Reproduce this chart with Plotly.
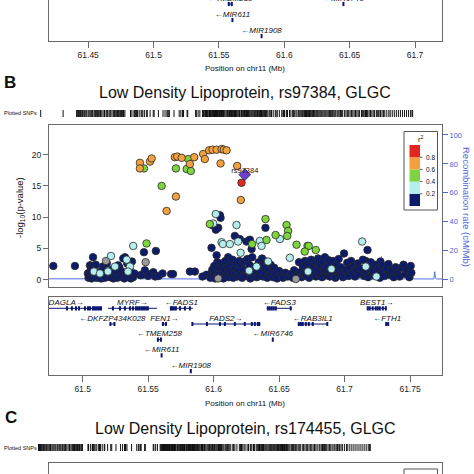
import plotly.graph_objects as go

W = H = 474
def fx(px): return px / W
def fy(py): return 1 - py / H

# ---------------- data ----------------
tickvals_A = [61.45, 61.5, 61.55, 61.6, 61.65, 61.7]
ticktext_A = ["61.45", "61.5", "61.55", "61.6", "61.65", "61.7"]
tickvals_B = [61.5, 61.55, 61.6, 61.65, 61.7, 61.75]
ticktext_B = ["61.5", "61.55", "61.6", "61.65", "61.7", "61.75"]
logp_ticks = [0, 5, 10, 15, 20]
recomb_ticks = [0, 20, 40, 60, 80, 100]
ld_breaks = ["0.2", "0.4", "0.6", "0.8"]

xrange_A = [61.420, 61.7206]
xrange_B = [61.4743, 61.7744]

gene_names = ["DAGLA", "MYRF", "FADS1", "FADS3", "BEST1", "DKFZP434K028", "FEN1",
              "FADS2", "RAB3IL1", "FTH1", "TMEM258", "MIR6746", "MIR611", "MIR1908"]
gene_start = [61.4479, 61.5193, 61.5666, 61.6406, 61.7170, 61.5208, 61.5605,
              61.5834, 61.6643, 61.7314, 61.5567, 61.6451, 61.5602, 61.5825]
gene_end = [61.5147, 61.5567, 61.5842, 61.6597, 61.7322, 61.5247, 61.5643,
            61.6353, 61.6872, 61.7337, 61.5605, 61.6453, 61.5604, 61.5827]
gene_strand = ["+", "+", "-", "-", "+", "-", "+", "+", "-", "-", "-", "-", "-", "-"]
gene_row = [1, 1, 1, 1, 1, 2, 2, 2, 2, 2, 3, 3, 4, 5]
gene_exons = [
    [61.4880, 61.4918, 61.4949, 61.4972, 61.5018, 61.5041, 61.5056, 61.5079, 61.5094, 61.5109, 61.5125, 61.5140],
    [61.5231, 61.5285, 61.5323, 61.5361, 61.5384, 61.5407, 61.5422, 61.5437, 61.5453, 61.5468, 61.5483, 61.5498],
    [61.5674, 61.5682, 61.5697, 61.5712, 61.5743, 61.5781, 61.5819],
    [61.6414, 61.6429, 61.6444, 61.6459, 61.6475, 61.6589],
    [61.7177, 61.7192, 61.7215, 61.7238, 61.7253, 61.7269, 61.7292, 61.7315],
    [61.5212, 61.5243],
    [61.5613, 61.5636],
    [61.5838, 61.5949, 61.6048, 61.6086, 61.6162, 61.6238, 61.6292, 61.6315, 61.6338, 61.6349],
    [61.6651, 61.6666, 61.6681, 61.6704, 61.6727, 61.6757, 61.6868],
    [61.7318, 61.7333],
    [61.5575, 61.5598],
    [61.6452],
    [61.5603],
    [61.5826],
]

# SNPs: (position Mb, -log10 p) per LD class
navy = [
    (61.4776, 2.2), (61.4941, 2.2), (61.5056, 2.3), (61.5079, 3.6), (61.5155, 2.1), (61.5270, 2.3),
    (61.5323, 3.6), (61.5376, 2.9), (61.5468, 4.4), (61.5559, 4.6), (61.5984, 5.1), (61.5992, 8.7),
    (61.6035, 8.3), (61.6017, 8.0), (61.6048, 10.3), (61.6053, 9.9), (61.6023, 3.9), (61.6111, 3.6),
    (61.6162, 7.0), (61.6200, 6.5), (61.6251, 6.1), (61.6396, 8.3), (61.6277, 6.4), (61.6290, 4.9),
    (61.6996, 4.2), (61.7175, 4.75), (61.7162, 3.0), (61.7274, 2.9),
    (61.5040, 1.0), (61.5045, 0.3), (61.5052, 0.6), (61.5060, 1.5), (61.5068, 0.2), (61.5072, 2.0),
    (61.5085, 0.8), (61.5095, 0.4), (61.5100, 2.4), (61.5108, 0.3), (61.5115, 1.2), (61.5125, 0.5),
    (61.5140, 0.2), (61.5148, 1.4), (61.5160, 0.6), (61.5170, 0.3), (61.5185, 2.6), (61.5200, 0.9),
    (61.5210, 0.4), (61.5225, 1.6), (61.5235, 0.2), (61.5245, 0.7), (61.5258, 1.1), (61.5265, 0.3),
    (61.5280, 2.0), (61.5290, 0.5), (61.5300, 1.3), (61.5310, 3.4), (61.5318, 0.2), (61.5330, 0.9),
    (61.5340, 2.6), (61.5350, 0.4), (61.5358, 1.7), (61.5368, 0.2), (61.5372, 0.8), (61.5385, 0.4),
    (61.5395, 1.0),
    (61.5440, 0.7), (61.5455, 0.8), (61.5475, 1.5), (61.5500, 0.6), (61.5520, 0.9), (61.5540, 1.2),
    (61.5555, 0.5), (61.5580, 0.6), (61.5610, 1.0), (61.5675, 0.9), (61.5690, 0.9), (61.5819, 1.3),
    (61.5857, 1.3), (61.5915, 0.5), (61.5946, 0.8), (61.5984, 1.0),
    (61.5975, 0.3), (61.5990, 1.6), (61.6000, 0.6), (61.6005, 2.2), (61.6012, 0.2), (61.6020, 1.2),
    (61.6028, 2.8), (61.6040, 0.8), (61.6045, 1.9), (61.6055, 0.4), (61.6060, 2.6), (61.6068, 1.1),
    (61.6075, 0.2), (61.6082, 1.7), (61.6090, 3.0), (61.6095, 0.7), (61.6105, 2.0), (61.6115, 0.4),
    (61.6120, 1.4), (61.6130, 2.4), (61.6138, 0.9), (61.6145, 3.2), (61.6150, 0.3), (61.6158, 1.8),
    (61.6165, 1.0), (61.6172, 2.6), (61.6180, 0.5), (61.6190, 1.5), (61.6195, 3.0), (61.6203, 0.8),
    (61.6210, 2.2), (61.6218, 0.3), (61.6225, 1.6), (61.6232, 2.9), (61.6240, 0.6), (61.6250, 1.2),
    (61.6258, 3.3), (61.6265, 0.9), (61.6272, 2.4), (61.6280, 0.2), (61.6288, 1.4), (61.6295, 3.6),
    (61.6303, 0.7), (61.6312, 2.0), (61.6320, 1.1), (61.6330, 0.4), (61.6338, 1.8), (61.6345, 2.8),
    (61.6350, 0.6),
    (61.6360, 1.3), (61.6370, 3.4), (61.6378, 0.5), (61.6385, 2.2), (61.6392, 1.0), (61.6400, 2.9),
    (61.6410, 0.3), (61.6420, 1.7), (61.6428, 0.8), (61.6435, 2.4), (61.6445, 1.2), (61.6455, 0.4),
    (61.6462, 1.9), (61.6470, 0.9), (61.6485, 0.2), (61.6500, 1.4), (61.6515, 0.7), (61.6530, 0.3),
    (61.6548, 1.1), (61.6565, 0.5), (61.6590, 0.9), (61.6605, 0.3), (61.6615, 1.5), (61.6640, 0.7),
    (61.6652, 2.8), (61.6660, 1.2),
    (61.6672, 0.4), (61.6680, 2.2), (61.6688, 1.0), (61.6698, 3.0), (61.6705, 0.6), (61.6712, 1.8),
    (61.6720, 2.6), (61.6730, 0.3), (61.6738, 1.4), (61.6745, 3.2), (61.6752, 0.8), (61.6760, 2.0),
    (61.6768, 1.1), (61.6775, 2.8), (61.6782, 0.5), (61.6790, 1.6), (61.6798, 3.4), (61.6805, 0.9),
    (61.6812, 2.3), (61.6820, 1.3), (61.6828, 0.4), (61.6835, 2.9), (61.6842, 1.7), (61.6850, 3.6),
    (61.6858, 0.7), (61.6865, 2.1), (61.6872, 1.2), (61.6880, 3.1), (61.6888, 0.5), (61.6895, 2.5),
    (61.6905, 1.0), (61.6912, 3.0), (61.6920, 1.8), (61.6930, 0.3), (61.6938, 2.4), (61.6945, 1.3),
    (61.6955, 3.3), (61.6962, 0.8), (61.6970, 2.0), (61.6980, 1.1), (61.6988, 0.4), (61.7010, 1.6),
    (61.7020, 2.7), (61.7030, 0.6), (61.7040, 1.9), (61.7050, 3.0), (61.7060, 1.0), (61.7070, 2.3),
    (61.7080, 0.5), (61.7090, 1.5), (61.7100, 2.6), (61.7110, 0.9), (61.7120, 1.8), (61.7140, 3.2),
    (61.7150, 0.6), (61.7160, 1.3), (61.7170, 2.2), (61.7180, 0.4), (61.7190, 1.7), (61.7200, 2.8),
    (61.7210, 0.7), (61.7220, 1.4), (61.7230, 2.4), (61.7250, 1.0), (61.7260, 1.9), (61.7270, 0.3),
    (61.7285, 2.3), (61.7295, 1.2), (61.7305, 0.6), (61.7320, 1.8), (61.7335, 2.5), (61.7345, 0.8),
    (61.7360, 1.5), (61.7375, 0.4), (61.7390, 2.0), (61.7405, 1.1), (61.7420, 0.5), (61.7435, 1.9),
    (61.7450, 2.4), (61.7465, 0.9), (61.7480, 1.6), (61.7495, 0.4), (61.7505, 2.2), (61.7510, 1.1),
]
gray = [(61.5178, 3.0), (61.5481, 2.8), (61.6035, 0.2), (61.6628, 0.1)]
cyan = [
    (61.5086, 1.3), (61.5132, 1.0), (61.5216, 3.8), (61.5247, 2.1), (61.5193, 1.3), (61.5336, 3.2),
    (61.5361, 2.1), (61.5346, 1.3), (61.5386, 5.4), (61.6017, 10.5), (61.5997, 9.0), (61.6061, 6.0),
    (61.6071, 5.7), (61.6124, 5.7), (61.6175, 8.75), (61.6187, 6.1), (61.6206, 4.3), (61.6271, 1.45),
    (61.6328, 2.1), (61.6353, 6.2), (61.6366, 5.4), (61.6416, 2.9), (61.6506, 6.5), (61.6582, 3.5),
    (61.6721, 1.3), (61.6900, 1.7), (61.7134, 6.1), (61.7162, 2.1), (61.7243, 0.5),
]
green = [
    (61.5468, 17.8), (61.5603, 15.0), (61.5712, 17.8), (61.5806, 19.3), (61.5794, 17.7), (61.5826, 17.4),
    (61.5488, 5.8), (61.5971, 8.9), (61.6396, 9.7), (61.6404, 6.35), (61.6473, 7.15), (61.6557, 8.75),
    (61.6569, 7.8), (61.6562, 7.0), (61.6633, 5.6), (61.6717, 5.4), (61.6726, 5.4), (61.6696, 4.5),
    (61.6780, 4.75), (61.6294, 5.7),
]
orange = [
    (61.5437, 18.7), (61.5437, 17.8), (61.5514, 18.9), (61.5527, 19.4), (61.5641, 11.0), (61.5704, 19.6),
    (61.5712, 13.3), (61.5722, 19.7), (61.5756, 19.5), (61.5819, 18.5), (61.5852, 19.6), (61.5920, 20.1),
    (61.5933, 19.3), (61.5966, 20.7), (61.5992, 20.8), (61.6023, 20.8), (61.6061, 20.9), (61.6078, 20.8),
    (61.6099, 20.7), (61.6053, 18.6), (61.6180, 18.2), (61.6208, 12.75),
]
red = [(61.6213, 15.5)]
index_snp = [(61.6238, 16.8)]
index_name = "rs97384"

recomb_pos = [61.4743, 61.5150, 61.5185, 61.5210, 61.5300, 61.5380, 61.5410, 61.5440, 61.6000,
              61.6258, 61.6262, 61.6365, 61.6369, 61.6828, 61.6834, 61.6840, 61.7276, 61.7282,
              61.7288, 61.7294, 61.7682, 61.7688, 61.7694, 61.7700, 61.7744]
recomb_rate = [0.6, 0.6, 2.0, 3.8, 4.4, 4.2, 2.5, 0.6, 0.5,
               0.6, 6.0, 6.3, 0.6, 0.6, 7.9, 0.6, 0.5, 15.9,
               4.0, 0.6, 0.5, 5.5, 1.5, 0.5, 0.5]

# ---------------- styles ----------------
NAVY = "#0d1b6b"; CYAN = "#b5eeee"; GREEN = "#7ed43f"; ORANGE = "#f3a13e"
RED = "#e3261f"; PURPLE = "#6b3fd0"; GRAY = "#9b9b9b"
RECOMB = "#4f6fe6"; AXBLUE = "#4c66d9"; FRAME = "#6a6a6a"
GENE = "#0a1670"
FONT = "Liberation Sans, Arial, sans-serif"

fig = go.Figure()

def gene_traces(xa, ya, xr, rows_visible, mb_per_px):
    lx, ly = [], []
    ex, ey = [], []
    tx, ty, tt = [], [], []
    for i, name in enumerate(gene_names):
        r = gene_row[i]
        if r not in rows_visible:
            continue
        lx += [gene_start[i], gene_end[i], None]
        ly += [-r, -r, None]
        ex += gene_exons[i]
        ey += [-r] * len(gene_exons[i])
        label = f"{name}\u2192" if gene_strand[i] == "+" else f"\u2190{name}"
        half = 0.5 * (len(name) + 1.3) * 4.5 * mb_per_px
        mid = 0.5 * (gene_start[i] + gene_end[i])
        mid = max(mid, xr[0] + half + 3 * mb_per_px)
        mid = min(mid, xr[1] - half - 3 * mb_per_px)
        tx.append(mid); ty.append(-r + 0.34); tt.append(f"<i>{label}</i>")
    fig.add_trace(go.Scatter(x=lx, y=ly, mode="lines", line=dict(color=GENE, width=1),
                             xaxis=xa, yaxis=ya, hoverinfo="skip", showlegend=False))
    fig.add_trace(go.Scatter(x=ex, y=ey, mode="markers",
                             marker=dict(symbol="line-ns", size=3, line=dict(color=GENE, width=2)),
                             xaxis=xa, yaxis=ya, hoverinfo="skip", showlegend=False))
    fig.add_trace(go.Scatter(x=tx, y=ty, mode="text", text=tt,
                             textfont=dict(family=FONT, size=8, color="#111"),
                             xaxis=xa, yaxis=ya, hoverinfo="skip", showlegend=False))

# Panel A (partial) genes
gene_traces("x", "y", xrange_A, {3, 4, 5}, 0.05 / 65.4)

# Panel B rug
all_pos = sorted([p for p, _ in navy + gray + cyan + green + orange + red + index_snp])
fig.add_trace(go.Scatter(x=all_pos, y=[0.5] * len(all_pos), mode="markers",
                         marker=dict(symbol="line-ns", size=7, line=dict(color="#111", width=1)),
                         xaxis="x2", yaxis="y2", hoverinfo="skip", showlegend=False))

# Panel B recombination rate (base axis y3 on the right)
fig.add_trace(go.Scatter(x=recomb_pos, y=recomb_rate, mode="lines",
                         line=dict(color=RECOMB, width=1), xaxis="x3", yaxis="y3",
                         hoverinfo="skip", showlegend=False))

# Panel B SNPs (overlay axis y4, left)
for data, col, sym, sz in [(navy, NAVY, "circle", 7.5), (gray, GRAY, "circle", 7.5),
                           (cyan, CYAN, "circle", 7.5), (green, GREEN, "circle", 7.5),
                           (orange, ORANGE, "circle", 7.5), (red, RED, "circle", 7.5),
                           (index_snp, PURPLE, "diamond", 9)]:
    fig.add_trace(go.Scatter(x=[p for p, _ in data], y=[v for _, v in data], mode="markers",
                             marker=dict(symbol=sym, size=sz, color=col,
                                         line=dict(color="#2a2a2a", width=0.8)),
                             xaxis="x3", yaxis="y4", hoverinfo="skip", showlegend=False))
fig.add_trace(go.Scatter(x=[index_snp[0][0]], y=[index_snp[0][1]], mode="text",
                         text=[index_name], textposition="top center",
                         textfont=dict(family=FONT, size=7.5, color="#111"),
                         xaxis="x3", yaxis="y4", hoverinfo="skip", showlegend=False,
                         cliponaxis=False))

# Panel B genes
gene_traces("x5", "y5", xrange_B, {1, 2, 3, 4, 5}, 0.05 / 65.5)

# Panel C rug
c_pos = [p for p in all_pos if p > 61.507]
fig.add_trace(go.Scatter(x=c_pos, y=[0.5] * len(c_pos), mode="markers",
                         marker=dict(symbol="line-ns", size=7, line=dict(color="#111", width=1)),
                         xaxis="x6", yaxis="y6", hoverinfo="skip", showlegend=False))
# Panel C frame placeholder
fig.add_trace(go.Scatter(x=[xrange_B[0]], y=[0], mode="markers", marker=dict(opacity=0),
                         xaxis="x7", yaxis="y7", hoverinfo="skip", showlegend=False))

# ---------------- layout ----------------
XD = [fx(49), fx(442)]
noax = dict(showgrid=False, zeroline=False, showticklabels=False, ticks="")
tickfont = dict(family=FONT, size=8.5, color="#222")

layout = dict(
    width=W, height=H, margin=dict(l=0, r=0, t=0, b=0),
    paper_bgcolor="white", plot_bgcolor="white", showlegend=False,
    font=dict(family=FONT),
    # A genes
    xaxis=dict(domain=XD, range=xrange_A, anchor="y", showgrid=False, zeroline=False,
               showline=True, linecolor=FRAME, mirror=False, ticks="outside", ticklen=6,
               tickcolor=FRAME, tickvals=tickvals_A, ticktext=ticktext_A, tickfont=tickfont),
    yaxis=dict(domain=[fy(41), 1], range=[-5.31, -2.75], anchor="x", showline=True,
               linecolor=FRAME, mirror=True, **noax),
    # B rug
    xaxis2=dict(domain=[fx(36.2), fx(444.5)], range=xrange_B, anchor="y2", **noax),
    yaxis2=dict(domain=[fy(117), fy(110)], range=[0, 1], anchor="x2", **noax),
    # B scatter
    xaxis3=dict(domain=XD, range=xrange_B, anchor="y3", showline=True, linecolor=FRAME,
                mirror=True, **noax),
    yaxis3=dict(domain=[fy(287), fy(125)], range=[-5.04, 106.9], anchor="x3", side="right",
                showgrid=False, zeroline=False, showline=True, linecolor=FRAME, mirror=True,
                tickvals=recomb_ticks, ticks="outside", ticklen=5, tickcolor=AXBLUE,
                tickfont=dict(family=FONT, size=7.5, color=AXBLUE)),
    yaxis4=dict(range=[-1.17, 24.75], overlaying="y3", anchor="x3", side="left",
                showgrid=False, zeroline=False, tickvals=logp_ticks, ticks="outside",
                ticklen=5, tickcolor=FRAME, tickfont=dict(family=FONT, size=8.5, color="#222")),
    # B genes
    xaxis5=dict(domain=XD, range=xrange_B, anchor="y5", showgrid=False, zeroline=False,
                showline=True, linecolor=FRAME, mirror=True, ticks="outside", ticklen=6,
                tickcolor=FRAME, tickvals=tickvals_B, ticktext=ticktext_B, tickfont=tickfont),
    yaxis5=dict(domain=[fy(375), fy(296.7)], range=[-5.248, -0.261], anchor="x5",
                showline=True, linecolor=FRAME, mirror=True, **noax),
    # C rug
    xaxis6=dict(domain=[0, fx(402.1)], range=[61.4789, 61.7744], anchor="y6", **noax),
    yaxis6=dict(domain=[fy(451), fy(444)], range=[0, 1], anchor="x6", **noax),
    # C frame
    xaxis7=dict(domain=XD, range=xrange_B, anchor="y7", side="top", showline=True,
                linecolor=FRAME, mirror=False, **noax),
    yaxis7=dict(domain=[0, fy(462.5)], range=[0, 1], anchor="x7", showline=True,
                linecolor=FRAME, mirror=True, **noax),
    yaxis8=dict(range=[92.74, 101.04], overlaying="y7", anchor="x7", side="right",
                showgrid=False, zeroline=False, tickvals=[100], ticks="outside", ticklen=5,
                tickcolor=AXBLUE, tickfont=dict(family=FONT, size=7.5, color=AXBLUE)),
)
fig.update_layout(**layout)

ann = []
def note(px, py, text, size, color="#111", xanchor="center", angle=0):
    ann.append(dict(x=fx(px), y=fy(py), xref="paper", yref="paper", text=text, showarrow=False,
                    xanchor=xanchor, yanchor="middle", textangle=angle,
                    font=dict(family=FONT, size=size, color=color)))

note(245, 68, "Position on chr11 (Mb)", 8)
note(10, 83, "<b>B</b>", 17)
note(245, 93, "Low Density Lipoprotein, rs97384, GLGC", 16)
note(2, 113.3, "Plotted SNPs", 5.5, xanchor="left")
note(20, 208, "-log<sub>10</sub>(p-value)", 9.5, angle=-90)
note(467, 207, "Recombination rate (cM/Mb)", 9.5, color=AXBLUE, angle=90)
note(245, 403, "Position on chr11 (Mb)", 8)
note(11, 417, "<b>C</b>", 17)
note(245, 428, "Low Density Lipoprotein, rs174455, GLGC", 16)
note(2, 447.5, "Plotted SNPs", 5.5, xanchor="left")

# LD legend (panel B)
shapes = [dict(type="rect", xref="paper", yref="paper", x0=fx(404), x1=fx(437.5),
               y0=fy(210), y1=fy(131.5), line=dict(color="#555", width=1), fillcolor="white",
               layer="above")]
seg_cols = [NAVY, CYAN, GREEN, ORANGE, RED]
seg_h = 12.2
for k, col in enumerate(seg_cols):
    shapes.append(dict(type="rect", xref="paper", yref="paper", x0=fx(409.5), x1=fx(420),
                       y0=fy(206 - k * seg_h), y1=fy(206 - (k + 1) * seg_h),
                       line=dict(width=0), fillcolor=col, layer="above"))
for k, lab in enumerate(ld_breaks):
    py = 206 - (k + 1) * seg_h
    shapes.append(dict(type="line", xref="paper", yref="paper", x0=fx(420), x1=fx(422.5),
                       y0=fy(py), y1=fy(py), line=dict(color="#333", width=0.8), layer="above"))
    note(423.5, py, lab, 6.5, xanchor="left")
note(421, 139, "r<sup>2</sup>", 7.5)

# LD legend top (panel C, partially visible)
shapes.append(dict(type="rect", xref="paper", yref="paper", x0=fx(404), x1=fx(437.5),
                   y0=fy(480), y1=fy(469), line=dict(color="#555", width=1), fillcolor="white",
                   layer="above"))

fig.update_layout(annotations=ann, shapes=shapes)
fig.write_html("out.html")
